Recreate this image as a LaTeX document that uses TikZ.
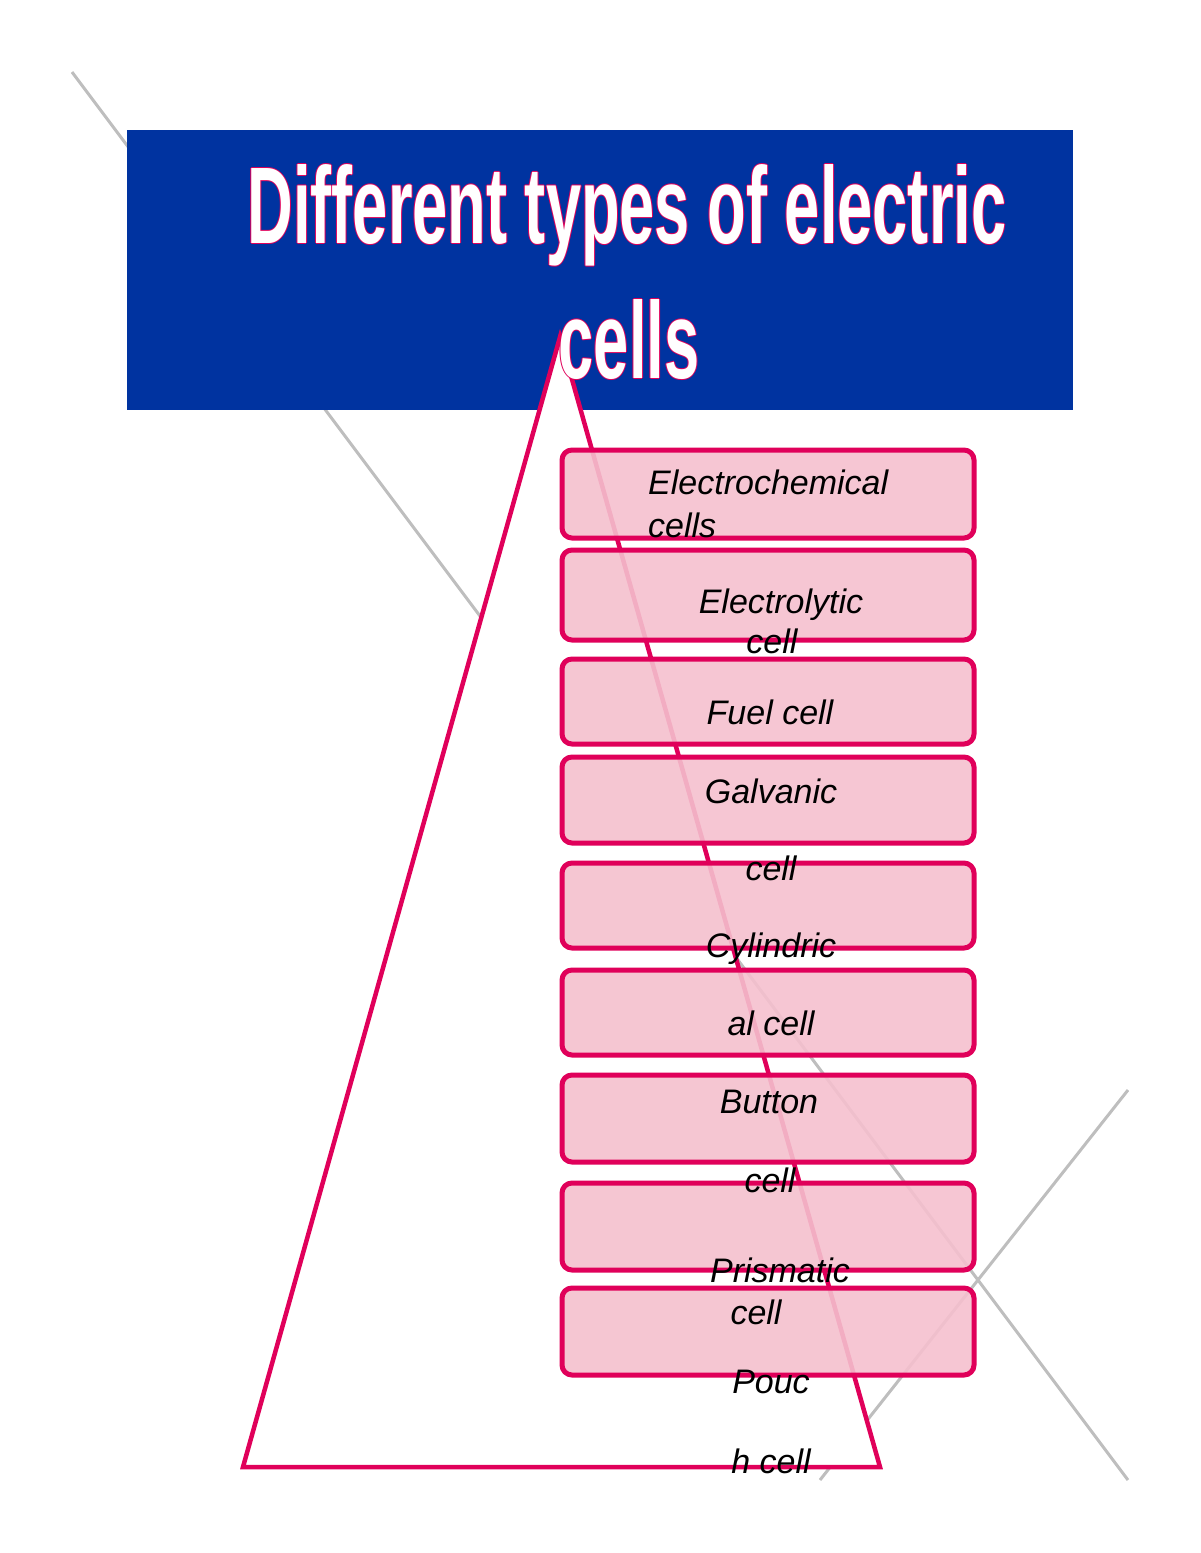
\documentclass[tikz,border=0pt]{standalone}
\usepackage{fontspec}
\setmainfont{Liberation Sans}
\newfontfamily\headfont[FakeStretch=0.58]{Liberation Sans}
\usepackage{tikz}

\definecolor{headblue}{RGB}{0,51,160}
\definecolor{cellred}{RGB}{224,0,90}
\definecolor{cellpink}{RGB}{245,192,206}
\definecolor{guidegray}{RGB}{190,190,190}

\begin{document}
\begin{tikzpicture}[x=1pt, y=-1pt,
      guide/.style={draw=guidegray, line width=3pt},
      cone/.style={draw=cellred, fill=white, line width=4.5pt, line join=miter},
      cellbox/.style={draw=cellred, fill=cellpink, fill opacity=0.9, line width=5pt,
        rounded corners=10pt, inner sep=0pt, minimum width=412pt},
      celltext/.style={anchor=base, inner sep=0pt, font=\fontsize{34}{41}\selectfont\itshape},
      headtext/.style={anchor=base, inner sep=0pt, text=white,
        font=\headfont\bfseries\fontsize{109}{135}\selectfont}]
  \useasboundingbox (0,0) rectangle (1200,1553);

  % faint crossing lines behind everything
  \draw[guide] (72,72) -- (1128,1480);
  \draw[guide] (1128,1090) -- (820,1480);

  \node[fill=headblue, inner sep=0pt, minimum width=946pt, minimum height=280pt] (head) at (600,270) {};

  \draw[cone] (560,337) -- (880,1467) -- (243,1467) -- cycle;

  % the stack of cells
  \foreach \i/\t/\b in {1/450/538, 2/550/640, 3/659/744, 4/757/843, 5/863/948,
                        6/970/1055, 7/1075/1162, 8/1183/1270, 9/1288/1375}
    \node[cellbox, minimum height={(\b-\t)*1pt}] (box\i) at (768,{(\t+\b)/2}) {};

  \foreach \n/\x/\y/\s in {1/648/494/Electrochemical, 2/648/537/cells}
    \node[celltext, anchor=base west] (cell\n) at (\x,\y) {\s};
  \foreach \n/\x/\y/\s in {3/781/613/Electrolytic, 4/772/653/cell, 5/770/724/Fuel cell,
                           6/771/803/Galvanic, 7/771/880/cell, 8/771/957/Cylindric,
                           9/771/1035/al cell, 10/769/1113/Button, 11/770/1192/cell,
                           12/780/1282/Prismatic, 13/756/1324/cell, 14/771/1393/Pouc,
                           15/771/1473/h cell}
    \node[celltext] (cell\n) at (\x,\y) {\s};

  % title with its thin red rim
  \foreach \dx/\dy [count=\k] in {-1/0, 1/0, 0/-1, 0/1} {
    \node[headtext, text=cellred] (rimA\k) at (627+\dx,243+\dy) {Different types of electric};
    \node[headtext, text=cellred] (rimB\k) at (629+\dx,378+\dy) {cells};
  }
  \node[headtext] (title1) at (627,243) {Different types of electric};
  \node[headtext] (title2) at (629,378) {cells};
\end{tikzpicture}
\end{document}
